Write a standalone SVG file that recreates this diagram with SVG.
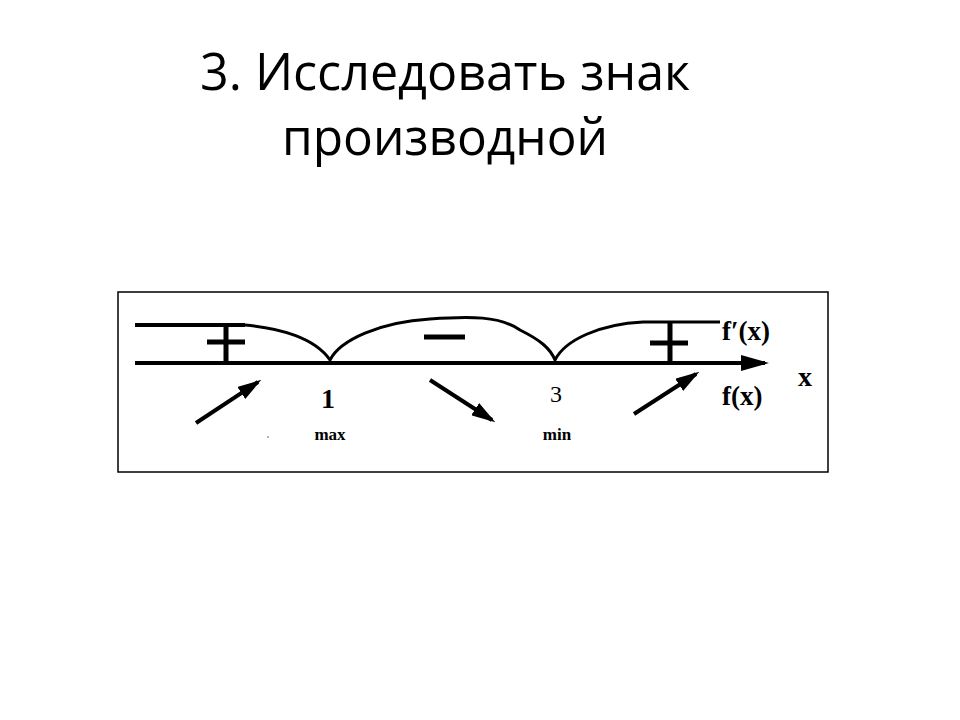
<svg xmlns="http://www.w3.org/2000/svg" width="960" height="720" viewBox="0 0 960 720">
<style>
.title{font-family:"Open Sans","Liberation Sans",sans-serif;font-size:52px;fill:#000}
.ser{font-family:"Liberation Serif","DejaVu Serif",serif;fill:#000}
.ln{fill:none;stroke:#000;stroke-width:4;stroke-linecap:butt}
.sg{fill:none;stroke:#000;stroke-width:5;stroke-linecap:butt}
.cv{fill:none;stroke:#000;stroke-width:3}
.ar{stroke:#000;stroke-width:4;fill:none}
</style>
<defs>
<marker id="ah" markerWidth="6" markerHeight="3.6" refX="5" refY="1.8" orient="auto" markerUnits="strokeWidth">
<path d="M0,0 L6,1.8 L0,3.6 Z" fill="#000"/>
</marker>
<marker id="axh" markerWidth="7" markerHeight="4" refX="6" refY="2" orient="auto" markerUnits="strokeWidth">
<path d="M0,0 L7,2 L0,4 Z" fill="#000"/>
</marker>
</defs>
<rect width="960" height="720" fill="#fff"/>
<g id="title">
<text class="title" x="200" y="90" textLength="490" lengthAdjust="spacingAndGlyphs">3. Исследовать знак</text>
<text class="title" x="282" y="155" textLength="326" lengthAdjust="spacingAndGlyphs">производной</text>
</g>
<g id="frame"><rect x="118" y="292" width="710" height="180" fill="#fff" stroke="#000" stroke-width="1.5"/></g>
<g id="connectors">
<path class="ln" d="M135,325 H245"/>
<path class="cv" d="M245,325 C280,328 315,338 330,360 C340,340 380,322 430,319 C470,316 500,316 520,330 C540,340 550,348 555,360 C565,340 600,324 643,322 H720"/>
<path class="ln" d="M135,363 H765" marker-end="url(#axh)"/>
<path class="ar" d="M196,423 L258,382" marker-end="url(#ah)"/>
<path class="ar" d="M430,380 L492,420" marker-end="url(#ah)"/>
<path class="ar" d="M634,414 L696,374" marker-end="url(#ah)"/>
</g>
<g id="signs">
<path class="sg" d="M207,342 H245 M226,325 V363"/>
<path class="sg" d="M424,337 H465"/>
<path class="sg" d="M650,343 H688 M670,322 V363"/>
</g>
<g id="labels">
<text class="ser" x="328" y="408" font-size="28" font-weight="bold" text-anchor="middle">1</text>
<text class="ser" x="330" y="440" font-size="17" font-weight="bold" text-anchor="middle">max</text>
<text class="ser" x="556" y="402" font-size="24" text-anchor="middle">3</text>
<text class="ser" x="557" y="440" font-size="17" font-weight="bold" text-anchor="middle">min</text>
<text class="ser" x="805" y="386" font-size="28" font-weight="bold" text-anchor="middle">x</text>
<text class="ser" x="722" y="340" font-size="27" font-weight="bold">f′(x)</text>
<text class="ser" x="722" y="405" font-size="27" font-weight="bold">f(x)</text>
<circle cx="268" cy="437" r="0.8" fill="#555"/>
</g>
</svg>
